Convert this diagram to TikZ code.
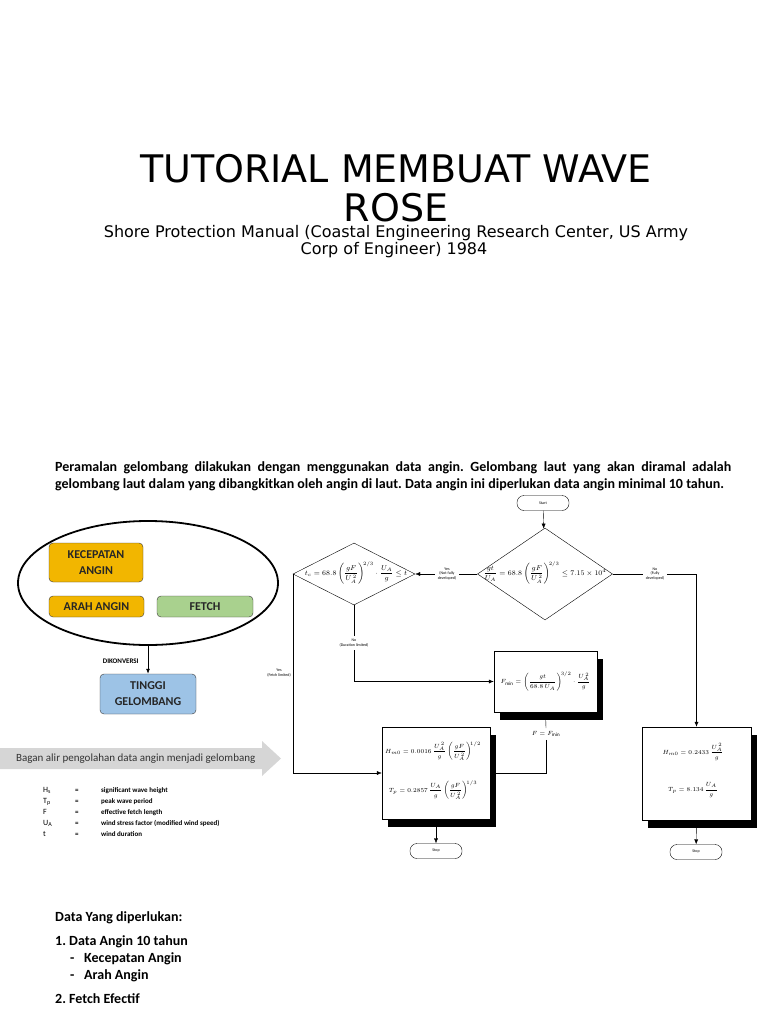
\documentclass[tikz,border=0pt]{standalone}
\usepackage{fontspec}
\setmainfont{Carlito}
\newfontfamily\titlefont{DejaVu Sans}
\usepackage{amsmath}
\usetikzlibrary{arrows.meta,positioning,shapes.geometric,shadows,calc}
\definecolor{angin}{HTML}{F2B600}
\definecolor{fetch}{HTML}{A9D18E}
\definecolor{tinggi}{HTML}{9DC3E6}
\definecolor{bagan}{HTML}{D6D6D6}
\definecolor{edge}{HTML}{3A3A3A}
\frenchspacing

\tikzset{
  inbox/.style={draw=edge, rounded corners=4pt, font=\fontsize{12}{16}\selectfont\bfseries, text=black!85, align=center, inner sep=0pt},
  terminal/.style={draw, rounded corners=7pt, minimum width=52pt, minimum height=15pt, font=\fontsize{4}{4}\selectfont, inner sep=0pt},
  decision/.style={draw, diamond, inner sep=0pt},
  procbox/.style={draw, fill=white, inner sep=0pt, drop shadow={shadow xshift=6pt, shadow yshift=-8pt, opacity=1, fill=black}},
  flow/.style={-{Latex[length=5pt,width=4pt]}},
  yesno/.style={font=\fontsize{4}{4.6}\selectfont, align=center, inner sep=3pt},
  fml/.style={font=\fontsize{7}{8}\selectfont, inner sep=0pt},
  boxfml/.style={font=\fontsize{6}{7}\selectfont, inner sep=0pt},
  legend/.style={font=\fontsize{7}{8}\selectfont\bfseries, anchor=base west, inner sep=0pt},
  bodytext/.style={font=\fontsize{14}{16}\selectfont\bfseries, anchor=base west, inner sep=0pt},
}

\begin{document}
\begin{tikzpicture}[x=1pt,y=-1pt]
  \useasboundingbox (0,0) rectangle (768,1024);

  % Title
  \node[font=\titlefont\fontsize{38}{40}\selectfont, anchor=base, inner sep=0pt] (title1) at (396,183) {TUTORIAL MEMBUAT WAVE};
  \node[font=\titlefont\fontsize{38}{40}\selectfont, anchor=base, inner sep=0pt] (title2) at (396,222) {ROSE};
  \node[font=\titlefont\fontsize{16}{18}\selectfont, anchor=base, inner sep=0pt] (sub1) at (396,237) {Shore Protection Manual (Coastal Engineering Research Center, US Army};
  \node[font=\titlefont\fontsize{16}{18}\selectfont, anchor=base, inner sep=0pt] (sub2) at (394,254) {Corp of Engineer) 1984};

  % Intro paragraph
  \node[bodytext] (para1) at (55,471) {\makebox[676pt][s]{Peramalan gelombang dilakukan dengan menggunakan data angin. Gelombang laut yang akan diramal adalah}};
  \node[bodytext] (para2) at (55,488) {gelombang laut dalam yang dibangkitkan oleh angin di laut. Data angin ini diperlukan data angin minimal 10 tahun.};

  % Wind data group
  \node[draw, ellipse, line width=1.8pt, minimum width=260pt, minimum height=124pt] (group) at (148,583) {};
  \node[inbox, fill=angin, minimum width=94pt, minimum height=39pt] (kec) at (96,562.5) {KECEPATAN\\ANGIN};
  \node[inbox, fill=angin, minimum width=95pt, minimum height=21pt] (arah) at (96.5,606.5) {ARAH ANGIN};
  \node[inbox, fill=fetch, minimum width=96pt, minimum height=21pt] (fetchbox) at (205,606.5) {FETCH};
  \node[inbox, fill=tinggi, minimum width=96pt, minimum height=40pt] (tinggibox) at (148,694) {TINGGI\\GELOMBANG};
  \draw[flow, thick] (group.south) -- (tinggibox.north) node[pos=0.55, left=9pt, font=\fontsize{7}{8}\selectfont\bfseries, inner sep=0pt] (konv) {DIKONVERSI};

  % Caption arrow
  \fill[bagan] (0,748) -- (262,748) -- (262,741) -- (281,758.5) -- (262,776) -- (262,769) -- (0,769) -- cycle;
  \node[anchor=west, font=\fontsize{11}{12}\selectfont, text=black!80, inner sep=0pt] (bagantext) at (16,758.5) {Bagan alir pengolahan data angin menjadi gelombang};

  % Legend
  \foreach \sym/\desc [count=\i] in {H\textsubscript{s}/significant wave height, T\textsubscript{p}/peak wave period, F/effective fetch length, U\textsubscript{A}/wind stress factor (modified wind speed), t/wind duration} {
    \node[legend, font=\fontsize{8}{9}\selectfont] (sym\i) at (43,{781+11*\i}) {\sym};
    \node[legend] (eq\i) at (75,{781+11*\i}) {=};
    \node[legend] (desc\i) at (101,{781+11*\i}) {\desc};
  }

  % Flowchart
  \node[terminal] (start) at (543,503) {Start};
  \node[decision, minimum width=135pt, minimum height=92pt] (d1) at (545,574) {};
  \node[fml] (d1text) at (545,573) {$\dfrac{gt}{U_A}=68.8\left(\dfrac{gF}{U_A^{\,2}}\right)^{\!2/3}\le 7.15\times10^{4}$};
  \node[decision, minimum width=122pt, minimum height=62pt] (d2) at (354,574) {};
  \node[fml] (d2text) at (356,573) {$t_c=68.8\left(\dfrac{gF}{U_A^{\,2}}\right)^{\!2/3}\cdot\dfrac{U_A}{g}\le t$};
  \node[procbox, minimum width=103pt, minimum height=61pt, boxfml] (fmin) at (545.5,681.5) {$F_{\min}=\left(\dfrac{gt}{68.8\,U_A}\right)^{\!3/2}\cdot\dfrac{U_A^{\,2}}{g}$};
  \node[procbox, minimum width=108pt, minimum height=92pt] (hlim) at (436,773) {};
  \node[boxfml] (hlim1) at (433,751) {$H_{m0}=0.0016\,\dfrac{U_A^{\,2}}{g}\left(\dfrac{gF}{U_A^{\,2}}\right)^{\!1/2}$};
  \node[boxfml] (hlim2) at (433,790) {$T_p=0.2857\,\dfrac{U_A}{g}\left(\dfrac{gF}{U_A^{\,2}}\right)^{\!1/3}$};
  \node[procbox, minimum width=109pt, minimum height=93pt] (hdev) at (696.5,773.5) {};
  \node[boxfml] (hdev1) at (693,752) {$H_{m0}=0.2433\,\dfrac{U_A^{\,2}}{g}$};
  \node[boxfml] (hdev2) at (693,790) {$T_p=8.134\,\dfrac{U_A}{g}$};
  \node[terminal] (stop1) at (436,851) {Stop};
  \node[terminal] (stop2) at (696,852) {Stop};

  \draw[flow] (start) -- (d1);
  % not fully developed
  \node[yesno] (lyes1) at (447,574) {Yes\\(Not fully\\developed)};
  \draw (d1.west) -- (lyes1.east);
  \draw[flow] (lyes1.west) -- (d2.east);
  % fully developed
  \node[yesno] (lno1) at (655,574) {No\\(Fully\\developed)};
  \draw (d1.east) -- (lno1.west);
  \draw[flow] (lno1.east) -| (hdev.north);
  % duration limited
  \node[yesno] (lno2) at (354,643) {No\\(Duration limited)};
  \draw (d2.south) -- (lno2.north);
  \draw[flow] (lno2.south) |- (fmin.west);
  % fetch limited
  \node[yesno, anchor=east, inner sep=1pt] (lyes2) at (292,673) {Yes\\(Fetch limited)};
  \draw[flow] (d2.west) |- (hlim.west);
  % F = Fmin
  \node[font=\fontsize{6}{7}\selectfont, inner sep=3pt] (lf) at (546,734) {$F=F_{\min}$};
  \draw (fmin.south) -- (lf.north);
  \draw (lf.south) |- ([xshift=6pt]hlim.east);
  \draw[flow] (hlim.south) -- (stop1);
  \draw[flow] (hdev.south) -- (stop2);

  % Required data
  \node[bodytext] (need) at (55,921) {Data Yang diperlukan:};
  \node[bodytext] (item1) at (55,945) {1. Data Angin 10 tahun};
  \node[bodytext] (dash1) at (70,962) {-};
  \node[bodytext] (item1a) at (84,962) {Kecepatan Angin};
  \node[bodytext] (dash2) at (70,979) {-};
  \node[bodytext] (item1b) at (84,979) {Arah Angin};
  \node[bodytext] (item2) at (55,1003) {2. Fetch Efectif};
\end{tikzpicture}
\end{document}
